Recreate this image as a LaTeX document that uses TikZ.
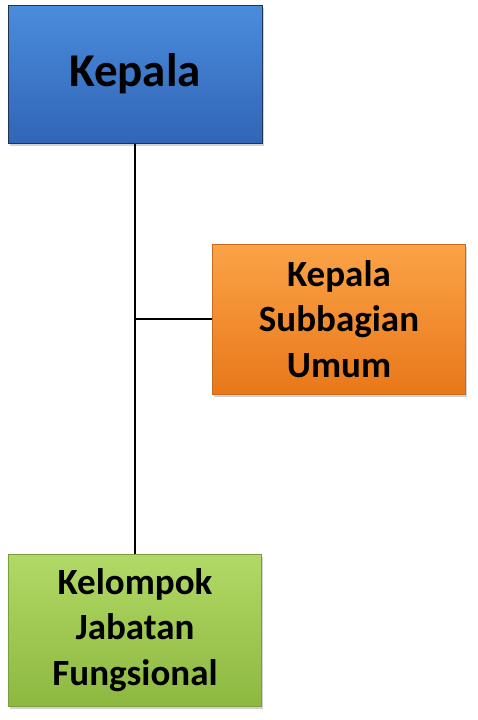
\documentclass[tikz,border=0pt]{standalone}
\usepackage{fontspec}
\setmainfont{Carlito}
\usetikzlibrary{shadows}
\definecolor{bluetop}{HTML}{4A8CDC}
\definecolor{bluebot}{HTML}{3265B6}
\definecolor{blueline}{HTML}{1F3450}
\definecolor{orangetop}{HTML}{FBA347}
\definecolor{orangebot}{HTML}{E8781A}
\definecolor{orangeline}{HTML}{C86A1E}
\definecolor{greentop}{HTML}{B2D966}
\definecolor{greenbot}{HTML}{8CB840}
\definecolor{greenline}{HTML}{7A9E3C}
\tikzset{
  orgbox/.style={draw, line width=1pt, inner sep=0pt, align=center,
    font=\bfseries\fontsize{37}{45.7}\selectfont,
    drop shadow={shadow xshift=1.5pt, shadow yshift=-2.5pt, opacity=0.35}},
  conn/.style={line width=2.6pt}
}
\begin{document}
\begin{tikzpicture}[x=1pt,y=1pt]
\useasboundingbox (0,0) rectangle (478,-720);
\fill[white] (0,0) rectangle (478,-720);
\node[orgbox, draw=blueline, top color=bluetop, bottom color=bluebot,
  minimum width=254pt, minimum height=138pt,
  font=\bfseries\fontsize{47}{56}\selectfont] (kepala) at (135,-74) {Kepala};
\node[orgbox, draw=orangeline, top color=orangetop, bottom color=orangebot,
  minimum width=253pt, minimum height=150pt] (subbag) at (339,-319)
  {Kepala\\Subbagian\\Umum};
\node[orgbox, draw=greenline, top color=greentop, bottom color=greenbot,
  minimum width=253pt, minimum height=152pt] (kelompok) at (135,-630)
  {Kelompok\\Jabatan\\Fungsional};
\draw[conn] (kepala.south) -- (kelompok.north);
\draw[conn] (kepala.south |- subbag.west) -- (subbag.west);
\end{tikzpicture}
\end{document}
